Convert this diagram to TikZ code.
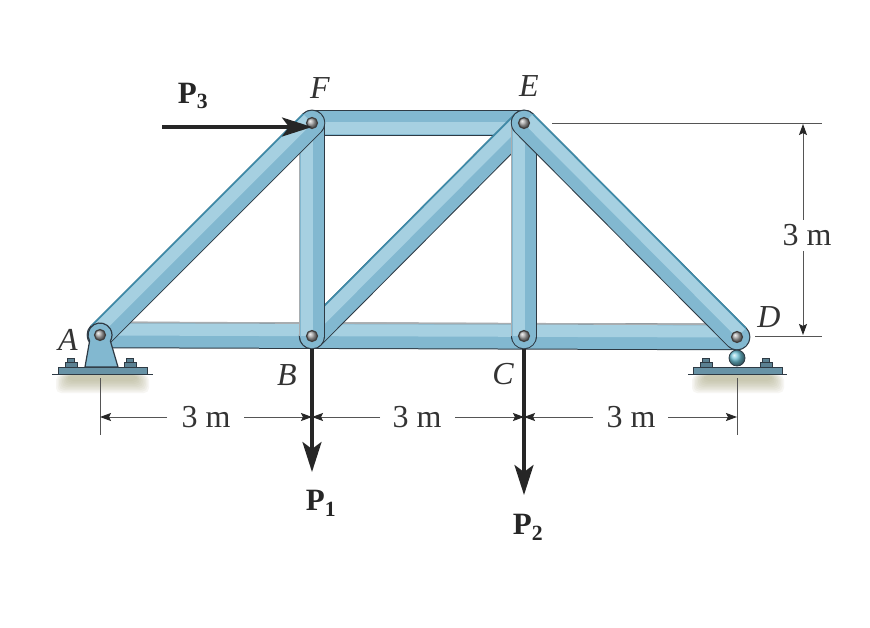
\documentclass[tikz,border=0pt]{standalone}
\usepackage{fontspec}
\setmainfont{Liberation Serif}
\usetikzlibrary{arrows.meta,calc}
\definecolor{mid}{HTML}{82B8D0}
\definecolor{lite}{HTML}{A6D0E1}
\definecolor{edge}{HTML}{2E3A44}
\definecolor{grayedge}{HTML}{A8ADB0}
\definecolor{teal}{HTML}{3E8AA8}
\definecolor{dimc}{HTML}{555555}
\definecolor{shadowc}{HTML}{A8A67E}
\tikzset{
 lab/.style={font=\fontsize{32}{34}\selectfont\itshape,text=black!80,inner sep=0pt},
 dimt/.style={font=\fontsize{32}{34}\selectfont,text=black!80,inner sep=0pt},
 plab/.style={font=\fontsize{31}{34}\selectfont\bfseries,text=black!85,inner sep=0pt},
 dimline/.style={draw=dimc,line width=.9pt},
 dimarrow/.style={dimline,-{Stealth[length=11pt,width=8pt,inset=2pt,color=black!85]}},
 force/.style={draw=black!85,line width=3.2pt,-{Stealth[length=30pt,width=19pt,inset=7pt]}},
 pin/.style={circle,draw=black!75,line width=1.2pt,minimum size=11pt,inner sep=0pt,ball color=black!35,shading=ball},
 plate/.style={fill=mid!80!black,draw=edge,line width=.8pt},
 boltc/.style={fill=mid!70!black,draw=edge,line width=.8pt},
}
% member: from, to, side of the light band (1 or -1), colour of that side's edge
\newcommand{\member}[4]{%
 \draw[edge,line width=26.5pt,line cap=round] (#1)--(#2);
 \draw[mid,line width=24.5pt,line cap=round] (#1)--(#2);
 \draw[lite,line width=12pt] ($(#1)!#3*5.5pt!90:(#2)$)--($(#2)!#3*5.5pt!-90:(#1)$);
 \draw[#4,line width=1.6pt] ($(#1)!#3*12.6pt!90:(#2)$)--($(#2)!#3*12.6pt!-90:(#1)$);
}
\newcommand{\bolt}[2]{%
 \path[boltc] (#1-6,#2) rectangle (#1+6,#2-5);
 \path[boltc] (#1-3.5,#2-5) rectangle (#1+3.5,#2-9);
}
\begin{document}
\begin{tikzpicture}[x=1pt,y=-1pt]
\useasboundingbox (0,0) rectangle (870,628);
\fill[white] (0,0) rectangle (870,628);
\coordinate (a) at (100,335);
\coordinate (b) at (312,336);
\coordinate (c) at (524,336);
\coordinate (d) at (737,337);
\coordinate (e) at (524,123);
\coordinate (f) at (312,123);
% shadows
\foreach \xa/\xb in {62/143,698/778}{
 \foreach \o in {0,1.5,...,12}{
  \fill[shadowc,opacity=.09,rounded corners=5pt] (\xa-6+\o,375) rectangle (\xb+6-\o,393-\o);
 }
}
% members
\member{a}{d}{1}{grayedge}
\member{e}{f}{1}{edge}
\member{b}{e}{1}{teal}
\member{f}{b}{-1}{grayedge}
\member{c}{e}{1}{grayedge}
\member{a}{f}{1}{teal}
\member{e}{d}{1}{teal}
% supports
\path[plate] (58,367) rectangle (147,374);
\draw[edge,line width=1.4pt] (52,374.5)--(153,374.5);
\bolt{71}{367}\bolt{130}{367}
\path[plate] (693,367) rectangle (782,374);
\draw[edge,line width=1.4pt] (688,374.5)--(787,374.5);
\bolt{706}{367}\bolt{766}{367}
\draw[fill=mid,draw=edge,line width=1.2pt] (85,367) -- (89.6,341) arc[start angle=150,end angle=390,radius=12] -- (118,367) -- cycle;
\shade[ball color=mid!85!cyan] (737,358) circle (8);
\draw[edge,line width=.8pt] (737,358) circle (8);
% pins
\node[pin] (A) at (a) {};
\node[pin] (B) at (b) {};
\node[pin] (C) at (c) {};
\node[pin] (D) at (d) {};
\node[pin] (E) at (e) {};
\node[pin] (F) at (f) {};
% forces
\coordinate (p1start) at (312,349);
\coordinate (p2start) at (524,349);
\coordinate (p1end) at (312,472);
\coordinate (p2end) at (524,495);
\coordinate (p3start) at (162,127);
\draw[force] (p1start) -- (p1end);
\draw[force] (p2start) -- (p2end);
\draw[force] (p3start) -- (F.center |- p3start);
% labels
\node[lab] at (320,88) {F};
\node[lab] at (529,86) {E};
\node[lab] at (68,340) {A};
\node[lab] at (287,375) {B};
\node[lab] at (503,374) {C};
\node[lab] at (769,317) {D};
\node[plab] at (193,96) {P\textsubscript{3}};
\node[plab] at (321,503) {P\textsubscript{1}};
\node[plab] at (528,527) {P\textsubscript{2}};
% dimensions: extension lines
\coordinate (ex1) at (552,123);
\coordinate (ex2) at (822,123);
\coordinate (ex3) at (755,336);
\coordinate (ex4) at (822,336);
\draw[dimline] (ex1)--(ex2);
\draw[dimline] (ex3)--(ex4);
\coordinate (ex5) at (100,378);
\coordinate (ex6) at (100,435);
\coordinate (ex7) at (737,378);
\coordinate (ex8) at (737,435);
\draw[dimline] (ex5)--(ex6);
\draw[dimline] (ex7)--(ex8);
% vertical dimension
\node[dimt] (v) at (807,235) {3 m};
\draw[dimarrow] (803,220)--(803,124);
\draw[dimarrow] (803,251)--(803,335);
% horizontal dimensions
\node[dimt] (h1) at (206,417) {3 m};
\node[dimt] (h2) at (417,417) {3 m};
\node[dimt] (h3) at (631,417) {3 m};
\draw[dimarrow] (167,417)--(100,417);
\draw[dimarrow] (244,417)--(312,417);
\draw[dimarrow] (380,417)--(312,417);
\draw[dimarrow] (455,417)--(524,417);
\draw[dimarrow] (593,417)--(524,417);
\draw[dimarrow] (668,417)--(737,417);
\end{tikzpicture}
\end{document}
